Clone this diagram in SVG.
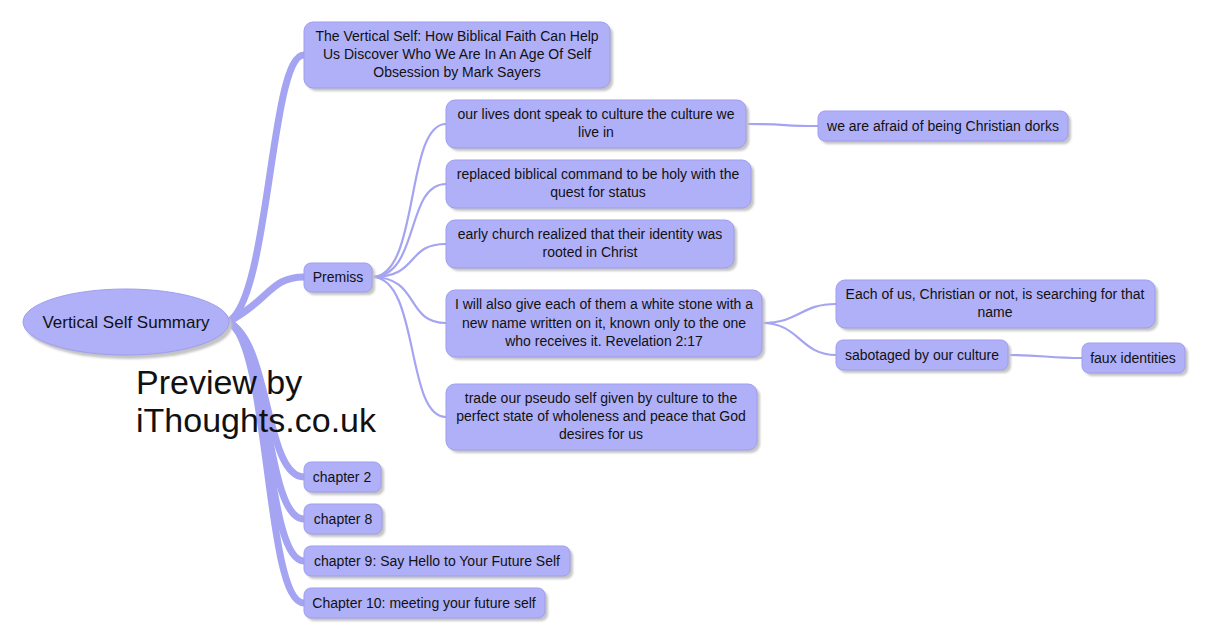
<svg xmlns="http://www.w3.org/2000/svg" width="1206" height="640" viewBox="0 0 1206 640">
<style>
.n{fill:#b0b0f8;stroke:#9d9df0;stroke-width:1}
.s{fill:#c4c4c4}
text{font-family:"Liberation Sans",Arial,sans-serif;font-size:14px;fill:#111;text-anchor:middle}
.c path{fill:none;stroke:#a4a4f2;stroke-linecap:round}
.t{stroke-width:7}
.m{stroke-width:2.2}
</style>
<defs><filter id="sh" x="-10%" y="-10%" width="130%" height="140%"><feGaussianBlur stdDeviation="1.2"/></filter></defs>
<g class="c">
<path class="t" d="M228,322 C270,300 270,55 304,55"/>
<path class="t" d="M228,322 C270,300 270,277 304,277"/>
<path class="t" d="M228,322 C270,340 265,477 304,477"/>
<path class="t" d="M228,322 C270,340 265,519 304,519"/>
<path class="t" d="M228,322 C270,340 265,561 304,561"/>
<path class="t" d="M228,322 C270,340 265,603 304,603"/>
<path class="m" d="M372,277 C420,277 405,124 446,124"/>
<path class="m" d="M372,277 C420,277 405,184 446,184"/>
<path class="m" d="M372,277 C420,277 405,244 446,244"/>
<path class="m" d="M372,277 C420,277 405,323 446,323"/>
<path class="m" d="M372,277 C420,277 405,417 446,417"/>
<path class="m" d="M746,124 C790,124 780,126 818,126"/>
<path class="m" d="M762,323 C800,323 800,304 836,304"/>
<path class="m" d="M762,323 C800,323 800,355 836,355"/>
<path class="m" d="M1008,355 C1040,355 1050,358 1082,358"/>
</g>
<g id="root"><ellipse class="s" cx="129" cy="326" rx="103" ry="33" filter="url(#sh)"/><ellipse class="n" cx="126" cy="322" rx="103" ry="33"/><text x="126" y="328" style="font-size:17px">Vertical Self Summary</text></g>
<g id="title"><rect class="s" x="307" y="25" width="306" height="66" rx="9" filter="url(#sh)"/><rect class="n" x="304" y="22" width="306" height="66" rx="9"/><text x="457" y="41">The Vertical Self: How Biblical Faith Can Help</text><text x="457" y="59">Us Discover Who We Are In An Age Of Self</text><text x="457" y="77">Obsession by Mark Sayers</text></g>
<g id="premiss"><rect class="s" x="307" y="266" width="68" height="29" rx="7" filter="url(#sh)"/><rect class="n" x="304" y="263" width="68" height="29" rx="7"/><text x="338" y="282">Premiss</text></g>
<g id="n1"><rect class="s" x="449" y="103" width="300" height="48" rx="9" filter="url(#sh)"/><rect class="n" x="446" y="100" width="300" height="48" rx="9"/><text x="596" y="119">our lives dont speak to culture the culture we</text><text x="596" y="137">live in</text></g>
<g id="n1a"><rect class="s" x="821" y="114" width="250" height="30" rx="7" filter="url(#sh)"/><rect class="n" x="818" y="111" width="250" height="30" rx="7"/><text x="943" y="131">we are afraid of being Christian dorks</text></g>
<g id="n2"><rect class="s" x="449" y="163" width="305" height="48" rx="9" filter="url(#sh)"/><rect class="n" x="446" y="160" width="305" height="48" rx="9"/><text x="598" y="179">replaced biblical command to be holy with the</text><text x="598" y="197">quest for status</text></g>
<g id="n3"><rect class="s" x="449" y="223" width="288" height="48" rx="9" filter="url(#sh)"/><rect class="n" x="446" y="220" width="288" height="48" rx="9"/><text x="590" y="239">early church realized that their identity was</text><text x="590" y="257">rooted in Christ</text></g>
<g id="n4"><rect class="s" x="449" y="293" width="316" height="67" rx="9" filter="url(#sh)"/><rect class="n" x="446" y="290" width="316" height="67" rx="9"/><text x="604" y="309">I will also give each of them a white stone with a</text><text x="604" y="328">new name written on it, known only to the one</text><text x="604" y="346">who receives it. Revelation 2:17</text></g>
<g id="n4a"><rect class="s" x="839" y="283" width="319" height="48" rx="9" filter="url(#sh)"/><rect class="n" x="836" y="280" width="319" height="48" rx="9"/><text x="995" y="299">Each of us, Christian or not, is searching for that</text><text x="995" y="317">name</text></g>
<g id="n4b"><rect class="s" x="839" y="343" width="172" height="30" rx="7" filter="url(#sh)"/><rect class="n" x="836" y="340" width="172" height="30" rx="7"/><text x="922" y="360">sabotaged by our culture</text></g>
<g id="n4b1"><rect class="s" x="1085" y="346" width="103" height="30" rx="7" filter="url(#sh)"/><rect class="n" x="1082" y="343" width="103" height="30" rx="7"/><text x="1133" y="363">faux identities</text></g>
<g id="n5"><rect class="s" x="449" y="387" width="311" height="66" rx="9" filter="url(#sh)"/><rect class="n" x="446" y="384" width="311" height="66" rx="9"/><text x="601" y="403">trade our pseudo self given by culture to the</text><text x="601" y="421">perfect state of wholeness and peace that God</text><text x="601" y="439">desires for us</text></g>
<g id="ch2"><rect class="s" x="307" y="465" width="77" height="30" rx="7" filter="url(#sh)"/><rect class="n" x="304" y="462" width="77" height="30" rx="7"/><text x="342" y="482">chapter 2</text></g>
<g id="ch8"><rect class="s" x="307" y="507" width="78" height="30" rx="7" filter="url(#sh)"/><rect class="n" x="304" y="504" width="78" height="30" rx="7"/><text x="343" y="524">chapter 8</text></g>
<g id="ch9"><rect class="s" x="307" y="549" width="266" height="30" rx="7" filter="url(#sh)"/><rect class="n" x="304" y="546" width="266" height="30" rx="7"/><text x="437" y="566">chapter 9: Say Hello to Your Future Self</text></g>
<g id="ch10"><rect class="s" x="307" y="591" width="241" height="30" rx="7" filter="url(#sh)"/><rect class="n" x="304" y="588" width="241" height="30" rx="7"/><text x="424" y="608">Chapter 10: meeting your future self</text></g>
<g id="wm"><text x="136" y="394" style="font-size:34px;text-anchor:start">Preview by</text><text x="136" y="432" style="font-size:34px;text-anchor:start">iThoughts.co.uk</text></g>
</svg>
